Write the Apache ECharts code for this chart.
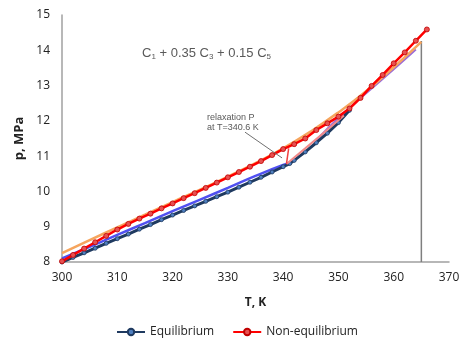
<!DOCTYPE html>
<html>
<head>
<meta charset="utf-8">
<script src="https://cdn.jsdelivr.net/npm/echarts@6/dist/echarts.min.js"></script>
<style>
  html, body { margin: 0; padding: 0; background: #fff; }
  #chart { width: 474px; height: 355px; }
</style>
</head>
<body>
<div id="chart"></div>
<script>
// tick values
var xTicks = [300, 310, 320, 330, 340, 350, 360, 370];
var yTicks = [8, 9, 10, 11, 12, 13, 14, 15];

// Equilibrium curve (T, K ; p, MPa)
var eqT = [300, 302, 304, 306, 308, 310, 312, 314, 316, 318, 320, 322, 324, 326, 328, 330,
           332, 334, 336, 338, 340, 341.2, 342, 344, 346, 348, 350, 352];
var eqP = [8.00, 8.13, 8.26, 8.39, 8.53, 8.66, 8.79, 8.93, 9.06, 9.20, 9.33, 9.46, 9.59, 9.72, 9.85, 9.98,
           10.12, 10.26, 10.40, 10.55, 10.70, 10.79, 10.88, 11.12, 11.38, 11.65, 11.95, 12.30];

// Non-equilibrium curve
var neT = [300, 302, 304, 306, 308, 310, 312, 314, 316, 318, 320, 322, 324, 326, 328, 330, 332, 334,
           336, 338, 340, 342, 344, 346, 348, 350, 352, 354, 356, 358, 360, 362, 364, 366];
var neP = [8.02, 8.20, 8.38, 8.56, 8.74, 8.92, 9.08, 9.23, 9.37, 9.52, 9.66, 9.81, 9.95, 10.10, 10.25, 10.40, 10.55, 10.70,
           10.86, 11.03, 11.20, 11.34, 11.50, 11.74, 11.93, 12.12, 12.35, 12.65, 12.99, 13.30, 13.63, 13.94, 14.27, 14.59];

// fitted / model lines
var blueT = [300, 305, 310, 315, 320, 325, 330, 335, 340, 341.2];
var blueP = [8.10, 8.43, 8.77, 9.10, 9.44, 9.77, 10.10, 10.44, 10.75, 10.80];
var orangeT = [300, 305, 310, 315, 320, 325, 330, 335, 340, 345, 350, 355, 360, 365];
var orangeP = [8.25, 8.62, 8.98, 9.34, 9.70, 10.05, 10.42, 10.80, 11.22, 11.70, 12.24, 12.84, 13.52, 14.24];
var violetT = [346, 350, 355, 360, 364];
var violetP = [11.45, 12.08, 12.78, 13.46, 14.02];
var pinkT = [340.6, 344, 348, 351];
var pinkP = [10.78, 11.22, 11.75, 12.15];
var relaxT = [340.6, 341.0];
var relaxP = [10.78, 11.22];
var limitT = [365, 365];
var limitP = [8, 14.26];
var pointerT = [333.1, 339.8];
var pointerP = [11.68, 10.95];

function pairs(xs, ys) {
  var out = [];
  for (var i = 0; i < xs.length; i++) out.push([xs[i], ys[i]]);
  return out;
}

var chart = echarts.init(document.getElementById('chart'));

var option = {
  animation: false,
  backgroundColor: '#fff',
  title: {
    text: '{n|C}{s|1}{n| + 0.35 C}{s|3}{n| + 0.15 C}{s|5}',
    left: 137,
    top: 40,
    textStyle: {
      fontWeight: 'normal',
      rich: {
        n: { fontFamily: 'Liberation Sans', fontSize: 13, fontWeight: 'normal', color: '#595959' },
        s: { fontFamily: 'Liberation Sans', fontSize: 8, fontWeight: 'normal', color: '#595959', verticalAlign: 'bottom', padding: [8, 0, 0, 0] }
      }
    }
  },
  graphic: [
    {
      type: 'text', left: 207, top: 113,
      style: { text: 'relaxation P\nat T=340.6 K', font: '9px Liberation Sans', fill: '#595959', lineHeight: 10 }
    }
  ],
  legend: {
    bottom: 12,
    left: 'center',
    itemWidth: 28,
    itemHeight: 8,
    itemGap: 18,
    data: ['Equilibrium', 'Non-equilibrium'],
    textStyle: { fontFamily: 'Open Sans', fontSize: 12, color: '#222' }
  },
  grid: { left: 62, right: 25, top: 15, bottom: 93 },
  xAxis: {
    type: 'value',
    min: xTicks[0],
    max: xTicks[xTicks.length - 1],
    interval: 10,
    name: 'T, K',
    nameLocation: 'middle',
    nameGap: 35,
    nameTextStyle: { fontFamily: 'Open Sans', fontSize: 12, fontWeight: 'bold', color: '#222' },
    axisLine: { lineStyle: { color: '#a0a0a0', width: 1.5 } },
    axisTick: { show: false },
    splitLine: { show: false },
    axisLabel: { fontFamily: 'Open Sans', fontSize: 12, color: '#222', margin: 10 }
  },
  yAxis: {
    type: 'value',
    min: yTicks[0],
    max: yTicks[yTicks.length - 1],
    interval: 1,
    name: 'p, MPa',
    nameLocation: 'middle',
    nameGap: 29,
    nameTextStyle: { fontFamily: 'Open Sans', fontSize: 13, fontWeight: 'bold', color: '#222' },
    axisLine: { show: true, lineStyle: { color: '#a0a0a0', width: 1.5 } },
    axisTick: { show: false },
    splitLine: { show: false },
    axisLabel: { fontFamily: 'Open Sans', fontSize: 12, color: '#222', margin: 12 }
  },
  series: [
    {
      name: 'limit', type: 'line', data: pairs(limitT, limitP), symbol: 'none',
      lineStyle: { color: '#7f7f7f', width: 1.5 }, silent: true, z: 1
    },
    {
      name: 'violet', type: 'line', data: pairs(violetT, violetP), symbol: 'none', smooth: true,
      lineStyle: { color: '#9a6ad6', width: 2 }, z: 2
    },
    {
      name: 'orange', type: 'line', data: pairs(orangeT, orangeP), symbol: 'none', smooth: true,
      lineStyle: { color: '#f6a55e', width: 2.5 }, z: 2
    },
    {
      name: 'blue', type: 'line', data: pairs(blueT, blueP), symbol: 'none', smooth: true,
      lineStyle: { color: '#5050f0', width: 2.5 }, z: 2
    },
    {
      name: 'Equilibrium', type: 'line', data: pairs(eqT, eqP),
      symbol: 'circle', symbolSize: 4,
      itemStyle: { color: '#4f7fbf', borderColor: '#1f3a60', borderWidth: 0.8 },
      lineStyle: { color: '#1f3a60', width: 3 }, z: 3
    },
    {
      name: 'pink', type: 'line', data: pairs(pinkT, pinkP), symbol: 'none',
      lineStyle: { color: '#f28a8a', width: 2 }, z: 4
    },
    {
      name: 'relax', type: 'line', data: pairs(relaxT, relaxP), symbol: 'none',
      lineStyle: { color: '#f04040', width: 1.5 }, z: 4
    },
    {
      name: 'Non-equilibrium', type: 'line', data: pairs(neT, neP),
      symbol: 'circle', symbolSize: 5,
      itemStyle: { color: '#e85050', borderColor: '#c00000', borderWidth: 0.8 },
      lineStyle: { color: '#ff0000', width: 2.5 }, z: 5
    },
    {
      name: 'pointer', type: 'line', data: pairs(pointerT, pointerP), symbol: 'none',
      lineStyle: { color: '#707070', width: 1 }, silent: true, z: 6
    }
  ]
};

chart.setOption(option);
</script>
</body>
</html>
